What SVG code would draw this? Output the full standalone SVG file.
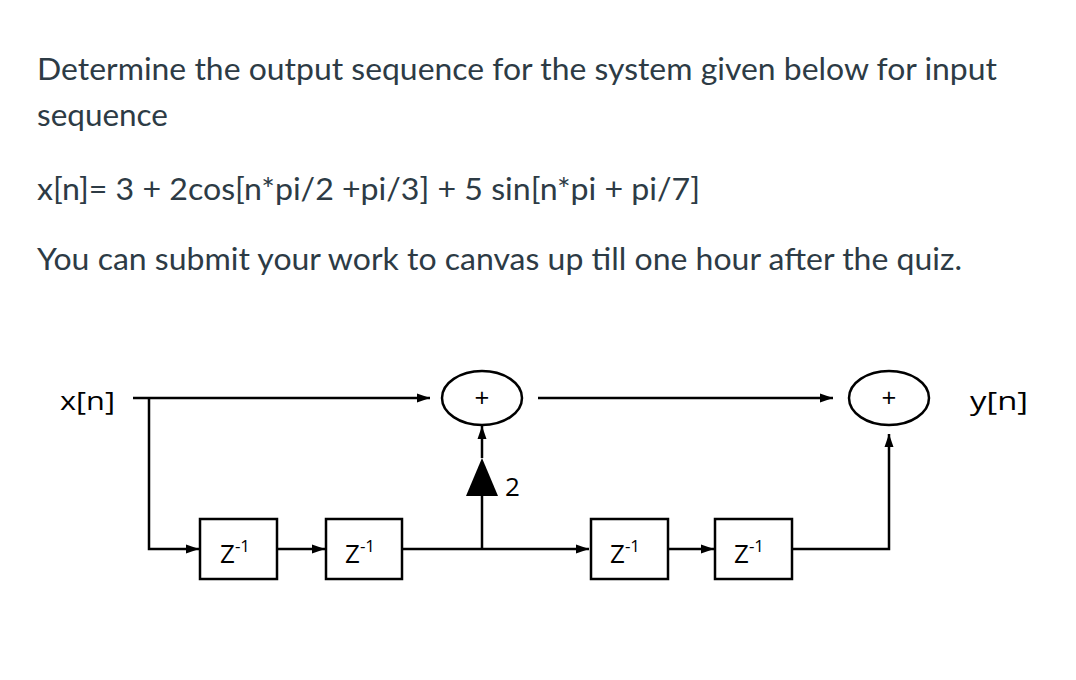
<svg xmlns="http://www.w3.org/2000/svg" width="1076" height="680" viewBox="0 0 1076 680">
<style>
.t{font-family:Lato,"Liberation Sans",sans-serif;font-size:31px;fill:#2d3b45}
.d{font-family:"Open Sans","Liberation Sans",sans-serif;font-size:26px;fill:#000}
.ln{stroke:#000;stroke-width:2.5;fill:none}
.bx{stroke:#000;stroke-width:2.5;fill:#fff}
</style>
<defs><marker id="a" markerWidth="14" markerHeight="12" refX="13" refY="6" orient="auto" markerUnits="userSpaceOnUse"><path d="M0,1.5 L13,6 L0,10.5 Z" fill="#000"/></marker></defs>
<rect width="1076" height="680" fill="#fff"/>
<text class="t" x="37" y="80" textLength="960" lengthAdjust="spacingAndGlyphs">Determine the output sequence for the system given below for input</text>
<text class="t" x="37" y="126" textLength="131" lengthAdjust="spacingAndGlyphs">sequence</text>
<text class="t" x="37" y="200" textLength="663" lengthAdjust="spacingAndGlyphs">x[n]= 3 + 2cos[n*pi/2 +pi/3] + 5 sin[n*pi + pi/7]</text>
<text class="t" x="37" y="270" textLength="925" lengthAdjust="spacingAndGlyphs">You can submit your work to canvas up till one hour after the quiz.</text>
<g id="connectors">
<path class="ln" d="M133,398 H430" marker-end="url(#a)"/>
<path class="ln" d="M149,398 V549 H199" marker-end="url(#a)"/>
<path class="ln" d="M277,549 H325" marker-end="url(#a)"/>
<path class="ln" d="M402,549 H589" marker-end="url(#a)"/>
<path class="ln" d="M482,549 V496"/>
<path class="ln" d="M482,458 V426" marker-end="url(#a)"/>
<path class="ln" d="M538,398 H833" marker-end="url(#a)"/>
<path class="ln" d="M668,549 H714" marker-end="url(#a)"/>
<path class="ln" d="M792,549 H889 V434" marker-end="url(#a)"/>
</g>
<g id="xn"><text class="d" x="60" y="410" textLength="55" lengthAdjust="spacingAndGlyphs">x[n]</text></g>
<g id="yn"><text class="d" x="970" y="410" textLength="58" lengthAdjust="spacingAndGlyphs">y[n]</text></g>
<g id="sum1"><ellipse class="bx" cx="482" cy="398" rx="40" ry="27"/><text class="d" x="482" y="407" text-anchor="middle">+</text></g>
<g id="sum2"><ellipse class="bx" cx="889" cy="398" rx="40" ry="27"/><text class="d" x="889" y="407" text-anchor="middle">+</text></g>
<g id="gain"><path d="M482,458 L498,496 L466,496 Z" fill="#000"/><text class="d" x="505" y="496">2</text></g>
<g id="z1"><rect class="bx" x="200" y="519" width="77" height="60"/><text class="d" x="220" y="563">Z<tspan font-size="17" dy="-11">-1</tspan></text></g>
<g id="z2"><rect class="bx" x="326" y="519" width="76" height="60"/><text class="d" x="345" y="563">Z<tspan font-size="17" dy="-11">-1</tspan></text></g>
<g id="z3"><rect class="bx" x="591" y="519" width="77" height="60"/><text class="d" x="610" y="563">Z<tspan font-size="17" dy="-11">-1</tspan></text></g>
<g id="z4"><rect class="bx" x="715" y="519" width="77" height="60"/><text class="d" x="734" y="563">Z<tspan font-size="17" dy="-11">-1</tspan></text></g>
</svg>
